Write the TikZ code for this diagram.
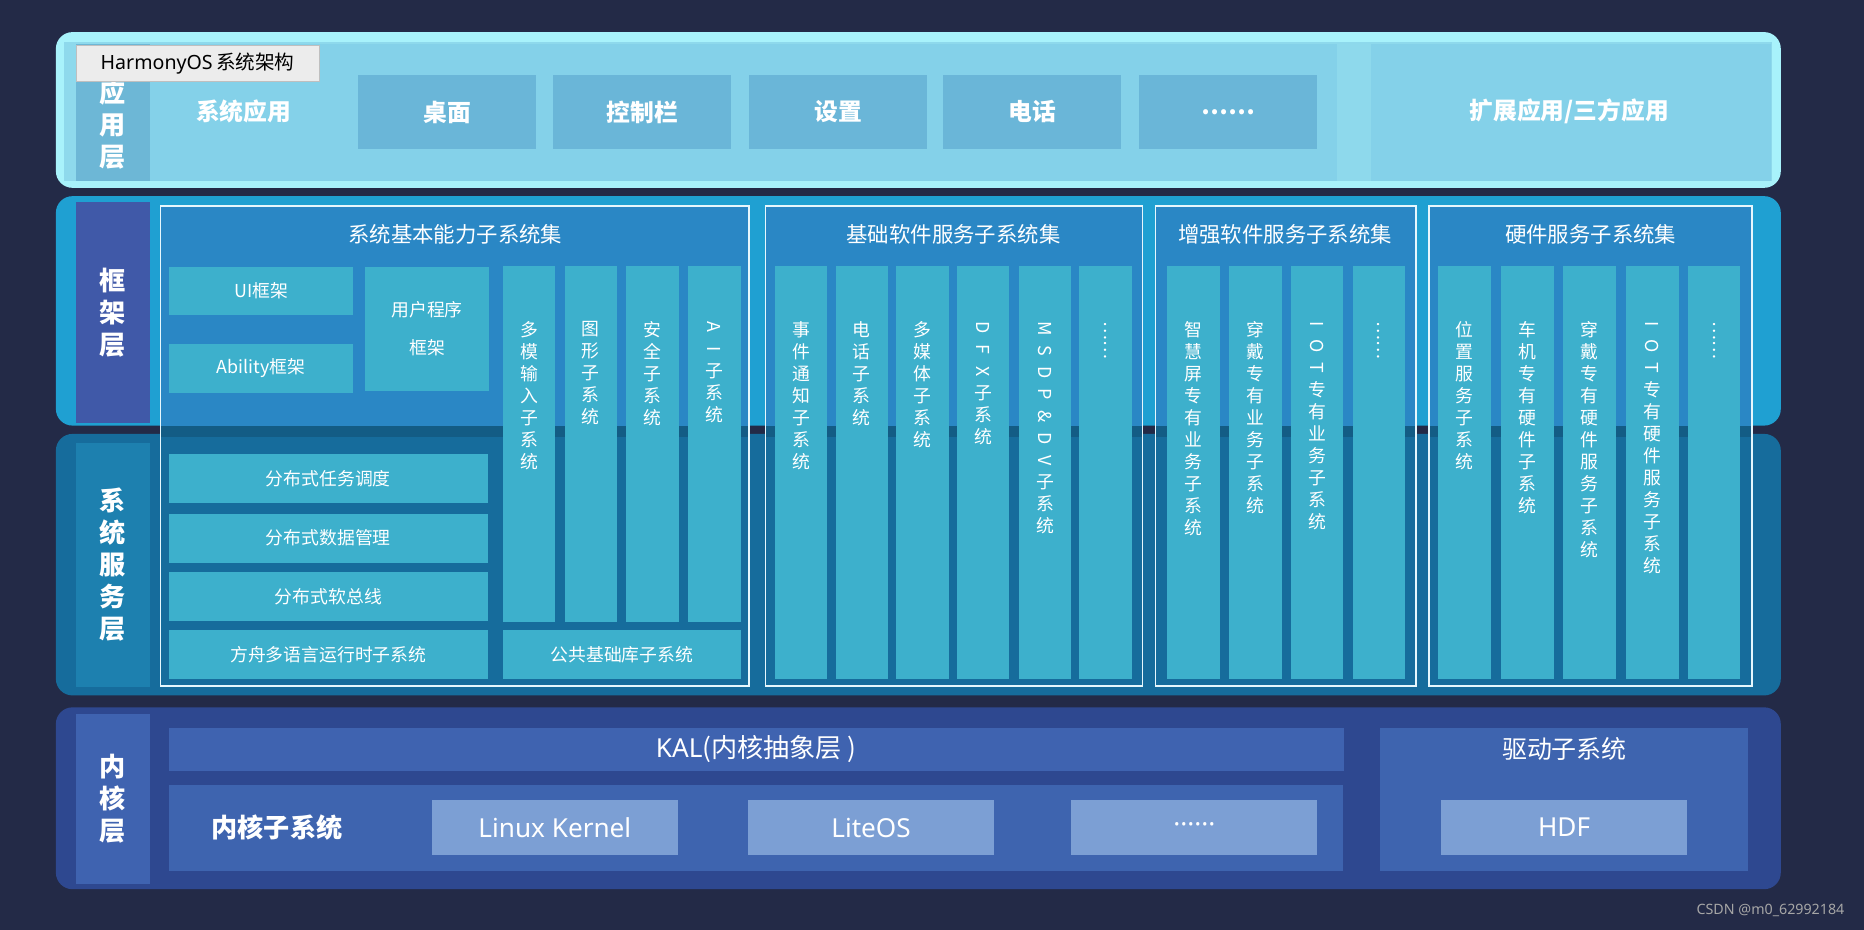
\documentclass[tikz,border=0pt]{standalone}
\usepackage{fontspec}
\setmainfont{Noto Sans CJK SC}
\newfontfamily\lat{Noto Sans}
\definecolor{bg}{HTML}{232A47}
\definecolor{appbg}{HTML}{8ED9EC}
\definecolor{appedge}{HTML}{A8F2FB}
\definecolor{applab}{HTML}{6DB7D6}
\definecolor{appin}{HTML}{84D1E9}
\definecolor{appbox}{HTML}{6AB6D8}
\definecolor{fwbg}{HTML}{1FA0D2}
\definecolor{fwlab}{HTML}{4059A8}
\definecolor{fwin}{HTML}{2A87C5}
\definecolor{ssbg}{HTML}{166C9C}
\definecolor{sslab}{HTML}{1D80AF}
\definecolor{barc}{HTML}{3DB0CC}
\definecolor{knbg}{HTML}{2E4890}
\definecolor{knlab}{HTML}{3F63B0}
\definecolor{knin}{HTML}{3E64AF}
\definecolor{knbox}{HTML}{7C9FD4}
\tikzset{
 x=1pt,y=-1pt,
 layer/.style={rounded corners=14pt},
 lab/.style={text=white,font=\fontsize{22}{27}\selectfont\bfseries,align=center},
 box/.style={fill=barc,text=white,font=\fontsize{15}{18}\selectfont},
 vt/.style={text=white,font=\fontsize{15}{18.5}\selectfont,align=center,anchor=north,inner sep=0pt},
 appb/.style={fill=appbox,text=white,font=\fontsize{20}{24}\selectfont\bfseries},
 grp/.style={draw=white!90!cyan,line width=1.5pt},
 ttl/.style={text=white,font=\fontsize{18}{21}\selectfont},
 kbox/.style={fill=knbox,text=white,font=\lat\fontsize{22}{26}\selectfont},
}
\newcommand\RL[1]{\rotatebox[origin=c]{-90}{#1}}
\begin{document}
\begin{tikzpicture}
\fill[bg] (0,0) rectangle (1568,782);
\useasboundingbox (0,0) rectangle (1568,782);
% application layer
\fill[appedge,layer] (47,27) rectangle (1498,158);
\fill[appbg] (54,35) rectangle (1491,152);
\fill[applab] (64,37) rectangle (126,152);
\node[lab] (lapp) at (95,105) {应\\用\\层};
\fill[appin] (126,37) rectangle (1125,152);
\node[text=white,font=\fontsize{20}{24}\selectfont\bfseries] (sysapp) at (205,94) {系统应用};
\foreach \a/\t [count=\i] in {301/桌面,465/控制栏,630/设置,793/电话,958/……}
  \node[appb,minimum width=150pt,minimum height=62pt,anchor=north west] (app\i) at (\a,63) {\t};
\fill[appin] (1153,37) rectangle (1490,152);
\node[text=white,font=\fontsize{20}{24}\selectfont\bfseries] (ext) at (1320,94) {扩展应用/三方应用};
\node[fill=gray!15,draw=gray!50,text=black,font=\lat\fontsize{16.5}{19}\selectfont,anchor=north west,minimum width=204pt,minimum height=30pt,inner sep=2pt] (tip) at (64,38) {HarmonyOS\,\fontspec{Noto Sans CJK SC}系统架构};
% framework layer
\fill[fwbg,layer] (47,165) rectangle (1498,358);
\fill[fwlab] (64,170) rectangle (126,356);
\node[lab] (lfw) at (95,263) {框\\架\\层};
% system service layer
\fill[ssbg,layer] (47,365) rectangle (1498,585);
\fill[sslab] (64,373) rectangle (126,578);
\node[lab] (lss) at (95,475) {系\\统\\服\\务\\层};
% group inner fill (framework part)
\foreach \a/\b in {135/630,644/961,972/1191,1202/1474}{
  \fill[fwin] (\a,173) rectangle (\b,358);
  \fill[ssbg!85!black] (\a,358) rectangle (\b,368);
}
\node[ttl] (t1) at (383,197) {系统基本能力子系统集};
\node[ttl] (t2) at (802,197) {基础软件服务子系统集};
\node[ttl] (t3) at (1081,197) {增强软件服务子系统集};
\node[ttl] (t4) at (1338,197) {硬件服务子系统集};
% G1 boxes
\node[box,anchor=north west,minimum width=155pt,minimum height=41pt] (ui) at (142,224) {UI框架};
\node[box,anchor=north west,minimum width=155pt,minimum height=41pt] (ab) at (142,289) {Ability框架};
\node[box,anchor=north west,minimum width=104pt,minimum height=105pt,align=center,font=\fontsize{15}{32}\selectfont] (up) at (307,224) {用户程序\\框架};
\foreach \a/\t [count=\i] in {423/{多\\模\\输\\入\\子\\系\\统},475/{图\\形\\子\\系\\统},527/{安\\全\\子\\系\\统},579/{\RL{A}\\\RL{I}\\子\\系\\统}}{
  \fill[barc] (\a,224) rectangle ++(44,299);
  \node[vt] (ga\i) at (\a+22,270) {\t};
}
\foreach \y/\t [count=\i] in {382/分布式任务调度,432/分布式数据管理,481/分布式软总线,530/方舟多语言运行时子系统}
  \node[box,anchor=north west,minimum width=268pt,minimum height=41pt] (ds\i) at (142,\y) {\t};
\node[box,anchor=north west,minimum width=200pt,minimum height=41pt] (pub) at (423,530) {公共基础库子系统};
% G2 bars
\foreach \a/\t [count=\i] in {652/{事\\件\\通\\知\\子\\系\\统},703/{电\\话\\子\\系\\统},754/{多\\媒\\体\\子\\系\\统},805/{\RL{D}\\\RL{F}\\\RL{X}\\子\\系\\统},857/{\RL{M}\\\RL{S}\\\RL{D}\\\RL{P}\\\RL{\&}\\\RL{D}\\\RL{V}\\子\\系\\统},908/{\RL{……}}}{
  \fill[barc] (\a,224) rectangle ++(44,347);
  \node[vt] (gb\i) at (\a+22,270) {\t};
}
% G3 bars
\foreach \a/\t [count=\i] in {982/{智\\慧\\屏\\专\\有\\业\\务\\子\\系\\统},1034/{穿\\戴\\专\\有\\业\\务\\子\\系\\统},1086/{\RL{I}\\\RL{O}\\\RL{T}\\专\\有\\业\\务\\子\\系\\统},1138/{\RL{……}}}{
  \fill[barc] (\a,224) rectangle ++(44,347);
  \node[vt] (gc\i) at (\a+22,270) {\t};
}
% G4 bars
\foreach \a/\t [count=\i] in {1210/{位\\置\\服\\务\\子\\系\\统},1263/{车\\机\\专\\有\\硬\\件\\子\\系\\统},1315/{穿\\戴\\专\\有\\硬\\件\\服\\务\\子\\系\\统},1368/{\RL{I}\\\RL{O}\\\RL{T}\\专\\有\\硬\\件\\服\\务\\子\\系\\统},1420/{\RL{……}}}{
  \fill[barc] (\a,224) rectangle ++(44,347);
  \node[vt] (gd\i) at (\a+22,270) {\t};
}
% group outlines
\draw[grp] (135,173) rectangle (630,577);
\draw[grp] (644,173) rectangle (961,577);
\draw[grp] (972,173) rectangle (1191,577);
\draw[grp] (1202,173) rectangle (1474,577);
% kernel layer
\fill[knbg,layer] (47,595) rectangle (1498,748);
\fill[knlab] (64,601) rectangle (126,744);
\node[lab] (lkn) at (95,672) {内\\核\\层};
\node[fill=knlab,text=white,font=\fontsize{22}{26}\selectfont,anchor=north west,minimum width=988pt,minimum height=36pt] (kal) at (142,612) {{\lat KAL}(内核抽象层 )};
\fill[knin] (142,660) rectangle (1130,733);
\node[text=white,font=\fontsize{22}{26}\selectfont\bfseries] (kss) at (233,696) {内核子系统};
\node[kbox,anchor=north west,minimum width=207pt,minimum height=46pt] (lk) at (363,673) {Linux Kernel};
\node[kbox,anchor=north west,minimum width=207pt,minimum height=46pt] (lo) at (629,673) {LiteOS};
\node[kbox,anchor=north west,minimum width=207pt,minimum height=46pt] (kd) at (901,673) {······};
\fill[knin] (1161,612) rectangle (1470,733);
\node[text=white,font=\fontsize{21}{25}\selectfont] (drv) at (1316,630) {驱动子系统};
\node[kbox,anchor=north west,minimum width=207pt,minimum height=46pt] (hdf) at (1212,673) {HDF};
\node[text=gray!70,font=\lat\fontsize{12}{14}\selectfont,anchor=east] (wm) at (1555,766) {CSDN @m0\_62992184};
\end{tikzpicture}
\end{document}
